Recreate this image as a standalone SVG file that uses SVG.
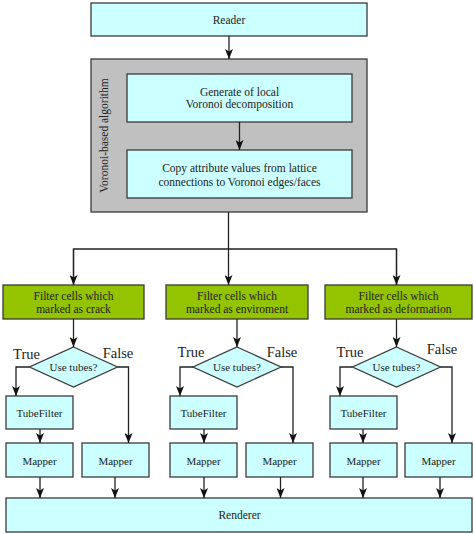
<svg xmlns="http://www.w3.org/2000/svg" width="474" height="534" viewBox="0 0 474 534">
<style>
.box{fill:#CCFFFF;stroke:#3a3a3a;stroke-width:1.3}
.gray{fill:#C0C0C0;stroke:#3a3a3a;stroke-width:1.3}
.green{fill:#94C300;stroke:#3a3a3a;stroke-width:1.3}
.dia{fill:#CCFFFF;stroke:#3a3a3a;stroke-width:1.3}
text{font-family:"Liberation Serif","Times New Roman",serif;fill:#222;text-anchor:middle}
.t{font-size:11.5px}
.s{font-size:11px}
.lbl{font-size:14.5px}
.c{fill:none;stroke:#222;stroke-width:1.3}
</style>
<defs>
<marker id="ah" markerUnits="userSpaceOnUse" markerWidth="10" markerHeight="8" refX="10" refY="4" orient="auto" viewBox="0 0 10 8">
<path d="M0,0 L10,4 L0,8 L2.5,4 z" fill="#111"/>
</marker>
</defs>
<rect width="474" height="534" fill="#fff"/>
<g id="reader"><rect class="box" x="91" y="3" width="276" height="33"/><text class="t" x="229" y="23.5">Reader</text></g>
<g id="voronoi-group"><rect class="gray" x="91" y="59" width="276" height="153"/><text class="t" transform="translate(107.5,135.5) rotate(-90)">Voronoi-based algorithm</text></g>
<g id="generate"><rect class="box" x="127" y="74" width="225" height="48"/><text class="t" x="239.5" y="95.5">Generate of local</text><text class="t" x="239.5" y="108.3">Voronoi decomposition</text></g>
<g id="copy"><rect class="box" x="127" y="150" width="225" height="48"/><text class="t" x="239.5" y="172">Copy attribute values from lattice</text><text class="t" x="239.5" y="185.5">connections to Voronoi edges/faces</text></g>

<g id="filter-crack"><rect class="green" x="3" y="285" width="141" height="34"/><text class="t" x="73.5" y="299.5">Filter cells which</text><text class="t" x="73.5" y="312.5">marked as crack</text></g>
<g id="filter-env"><rect class="green" x="166" y="285" width="142" height="34"/><text class="t" x="237" y="299.5">Filter cells which</text><text class="t" x="237" y="312.5">marked as enviroment</text></g>
<g id="filter-def"><rect class="green" x="325" y="285" width="147" height="34"/><text class="t" x="398.5" y="299.5">Filter cells which</text><text class="t" x="398.5" y="312.5">marked as deformation</text></g>

<g id="dec1"><polygon class="dia" points="73.5,347 117.5,367 73.5,387 29.5,367"/><text class="s" x="73.5" y="370.5">Use tubes?</text></g>
<g id="dec2"><polygon class="dia" points="237,347 281,367 237,387 193,367"/><text class="s" x="237" y="370.5">Use tubes?</text></g>
<g id="dec3"><polygon class="dia" points="396.5,347 440.5,367 396.5,387 352.5,367"/><text class="s" x="396.5" y="370.5">Use tubes?</text></g>

<g id="tube1"><rect class="box" x="6" y="396" width="67" height="33"/><text class="s" x="39.5" y="417">TubeFilter</text></g>
<g id="tube2"><rect class="box" x="170" y="396" width="67" height="33"/><text class="s" x="203.5" y="417">TubeFilter</text></g>
<g id="tube3"><rect class="box" x="330" y="396" width="67" height="33"/><text class="s" x="363.5" y="417">TubeFilter</text></g>

<g id="mapper1a"><rect class="box" x="6" y="443" width="67" height="34"/><text class="s" x="39.5" y="465">Mapper</text></g>
<g id="mapper1b"><rect class="box" x="82" y="443" width="67" height="34"/><text class="s" x="115.5" y="465">Mapper</text></g>
<g id="mapper2a"><rect class="box" x="170" y="443" width="67" height="34"/><text class="s" x="203.5" y="465">Mapper</text></g>
<g id="mapper2b"><rect class="box" x="246" y="443" width="67" height="34"/><text class="s" x="279.5" y="465">Mapper</text></g>
<g id="mapper3a"><rect class="box" x="330" y="443" width="67" height="34"/><text class="s" x="363.5" y="465">Mapper</text></g>
<g id="mapper3b"><rect class="box" x="405" y="443" width="67" height="34"/><text class="s" x="438.5" y="465">Mapper</text></g>

<g id="renderer"><rect class="box" x="6" y="498" width="466" height="34"/><text class="t" x="239.5" y="518.5">Renderer</text></g>

<g id="connectors">
<line class="c" x1="229" y1="36" x2="229" y2="59" marker-end="url(#ah)"/>
<line class="c" x1="239.5" y1="122" x2="239.5" y2="150" marker-end="url(#ah)"/>
<line class="c" x1="228.5" y1="212" x2="228.5" y2="285" marker-end="url(#ah)"/>
<polyline class="c" points="73.5,285 73.5,249 396.5,249 396.5,285"/>
<line class="c" x1="73.5" y1="249" x2="73.5" y2="285" marker-end="url(#ah)"/>
<line class="c" x1="396.5" y1="249" x2="396.5" y2="285" marker-end="url(#ah)"/>

<line class="c" x1="73.5" y1="319" x2="73.5" y2="347" marker-end="url(#ah)"/>
<line class="c" x1="237" y1="319" x2="237" y2="347" marker-end="url(#ah)"/>
<line class="c" x1="396.5" y1="319" x2="396.5" y2="347" marker-end="url(#ah)"/>

<polyline class="c" points="29.5,367 16,367 16,396" marker-end="url(#ah)"/>
<polyline class="c" points="117.5,367 128.5,367 128.5,443" marker-end="url(#ah)"/>
<polyline class="c" points="193,367 180,367 180,396" marker-end="url(#ah)"/>
<polyline class="c" points="281,367 293,367 293,443" marker-end="url(#ah)"/>
<polyline class="c" points="352.5,367 340,367 340,396" marker-end="url(#ah)"/>
<polyline class="c" points="440.5,367 452,367 452,443" marker-end="url(#ah)"/>

<line class="c" x1="40" y1="429" x2="40" y2="443" marker-end="url(#ah)"/>
<line class="c" x1="204" y1="429" x2="204" y2="443" marker-end="url(#ah)"/>
<line class="c" x1="363" y1="429" x2="363" y2="443" marker-end="url(#ah)"/>

<line class="c" x1="40" y1="477" x2="40" y2="498" marker-end="url(#ah)"/>
<line class="c" x1="115" y1="477" x2="115" y2="498" marker-end="url(#ah)"/>
<line class="c" x1="204" y1="477" x2="204" y2="498" marker-end="url(#ah)"/>
<line class="c" x1="280.5" y1="477" x2="280.5" y2="498" marker-end="url(#ah)"/>
<line class="c" x1="363" y1="477" x2="363" y2="498" marker-end="url(#ah)"/>
<line class="c" x1="440" y1="477" x2="440" y2="498" marker-end="url(#ah)"/>

<text class="lbl" x="26.5" y="359">True</text>
<text class="lbl" x="118" y="357.5">False</text>
<text class="lbl" x="191" y="357.3">True</text>
<text class="lbl" x="282" y="357">False</text>
<text class="lbl" x="350" y="356.7">True</text>
<text class="lbl" x="442" y="354.3">False</text>
</g>
</svg>
